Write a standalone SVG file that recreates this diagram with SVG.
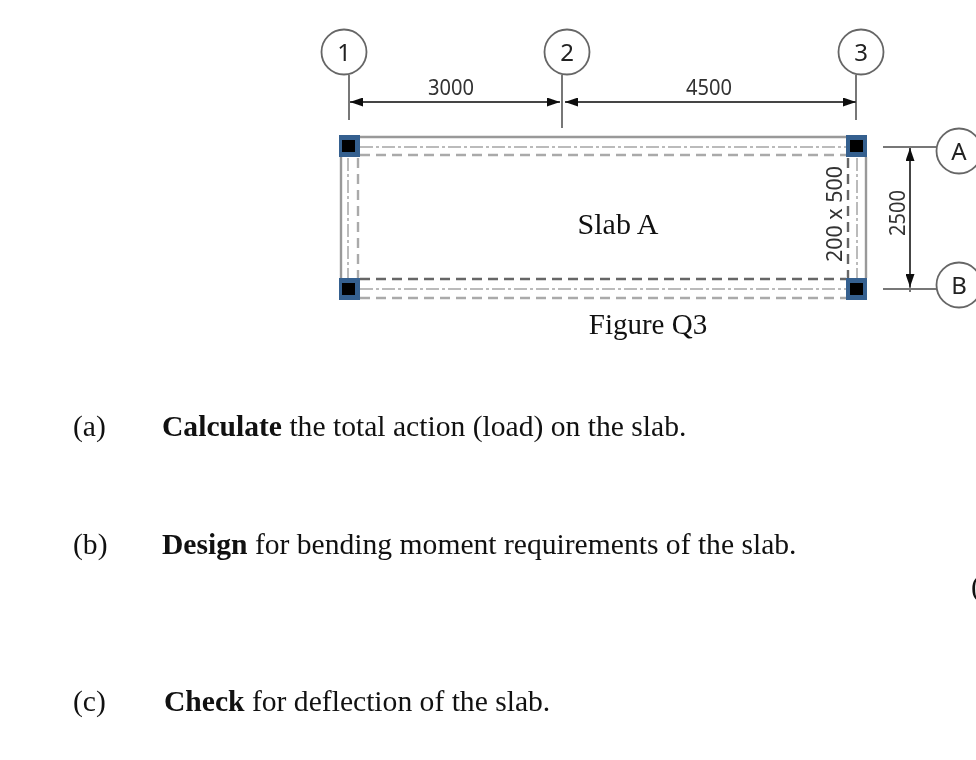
<svg xmlns="http://www.w3.org/2000/svg" width="976" height="760" viewBox="0 0 976 760">
<style>
.g{fill:#fff;stroke:#666;stroke-width:1.8}
.l{fill:none;stroke:#777;stroke-width:2}
.d{fill:none;stroke:#444;stroke-width:2}
.sol{fill:none;stroke:#999;stroke-width:2.4}
.dd{fill:none;stroke:#bbb;stroke-width:2;stroke-dasharray:13 3 3 3}
.das{fill:none;stroke:#aaa;stroke-width:2.4;stroke-dasharray:10 6}
.dk{fill:none;stroke:#666;stroke-width:2.4;stroke-dasharray:10 6}
.cb{fill:#34608f}
.ci{fill:#000}
.a{font:21px "Noto Sans",sans-serif;fill:#333;text-anchor:middle}
.n{font:24px "Noto Sans",sans-serif;fill:#222;text-anchor:middle}
.s{font:29.6px "Liberation Serif",serif;fill:#111}
.t{font-weight:bold}
</style>
<defs>
<marker id="ar" viewBox="0 0 13 9" refX="13" refY="4.5" markerWidth="13" markerHeight="9" markerUnits="userSpaceOnUse" orient="auto-start-reverse"><path d="M0 0L13 4.5L0 9Z" fill="#111"/></marker>
<filter id="b" x="-5%" y="-5%" width="110%" height="110%"><feGaussianBlur stdDeviation="0.55"/></filter>
</defs>
<g id="connectors" filter="url(#b)">
<path class="l" d="M349 75V120M562 75V128M856 75V120M883 147H937M883 289H937M910 286V292"/>
<path class="d" d="M350 102H560" marker-start="url(#ar)" marker-end="url(#ar)"/>
<path class="d" d="M565 102H856" marker-start="url(#ar)" marker-end="url(#ar)"/>
<path class="d" d="M910 148V287" marker-start="url(#ar)" marker-end="url(#ar)"/>
</g>
<g id="slab" filter="url(#b)">
<path class="sol" d="M358 137H846M341 157V278M866 157V278"/>
<path class="dd" d="M360 147H846M360 289H846M348 158V278M857 158V278"/>
<path class="das" d="M360 155H846M360 298H846M358 158V278"/>
<path class="dk" d="M360 279H846M848 158V278"/>
</g>
<g id="col-1A" filter="url(#b)"><rect class="cb" x="339" y="135" width="21" height="22"/><rect class="ci" x="342" y="140" width="13" height="12"/></g>
<g id="col-3A" filter="url(#b)"><rect class="cb" x="846" y="135" width="21" height="22"/><rect class="ci" x="850" y="140" width="13" height="12"/></g>
<g id="col-1B" filter="url(#b)"><rect class="cb" x="339" y="278" width="21" height="22"/><rect class="ci" x="342" y="283" width="13" height="12"/></g>
<g id="col-3B" filter="url(#b)"><rect class="cb" x="846" y="278" width="21" height="22"/><rect class="ci" x="850" y="283" width="13" height="12"/></g>
<g id="grid-1" filter="url(#b)"><circle class="g" cx="344" cy="52" r="22.5"/><text class="n" x="344" y="61">1</text></g>
<g id="grid-2" filter="url(#b)"><circle class="g" cx="567" cy="52" r="22.5"/><text class="n" x="567" y="61">2</text></g>
<g id="grid-3" filter="url(#b)"><circle class="g" cx="861" cy="52" r="22.5"/><text class="n" x="861" y="61">3</text></g>
<g id="grid-A" filter="url(#b)"><circle class="g" cx="959" cy="151" r="22.5"/><text class="n" x="959" y="160">A</text></g>
<g id="grid-B" filter="url(#b)"><circle class="g" cx="959" cy="285" r="22.5"/><text class="n" x="959" y="294">B</text></g>
<g id="dim-labels" filter="url(#b)">
<text class="a" x="451" y="95" textLength="46" lengthAdjust="spacingAndGlyphs">3000</text>
<text class="a" x="709" y="95" textLength="46" lengthAdjust="spacingAndGlyphs">4500</text>
<text class="a" transform="translate(842 214) rotate(-90)" textLength="96" lengthAdjust="spacingAndGlyphs">200 x 500</text>
<text class="a" transform="translate(905 213) rotate(-90)" textLength="46" lengthAdjust="spacingAndGlyphs">2500</text>
</g>
<text class="s" x="618" y="234" text-anchor="middle" style="font-size:30px">Slab A</text>
<text class="s" x="648" y="334" text-anchor="middle" style="font-size:29px">Figure Q3</text>
<text class="s" x="73" y="436">(a)</text>
<text class="s" x="162" y="436"><tspan class="t">Calculate</tspan> the total action (load) on the slab.</text>
<text class="s" x="73" y="554">(b)</text>
<text class="s" x="162" y="554"><tspan class="t">Design</tspan> for bending moment requirements of the slab.</text>
<text class="s" x="971" y="596">(</text>
<text class="s" x="73" y="711">(c)</text>
<text class="s" x="164" y="711"><tspan class="t">Check</tspan> for deflection of the slab.</text>
</svg>
